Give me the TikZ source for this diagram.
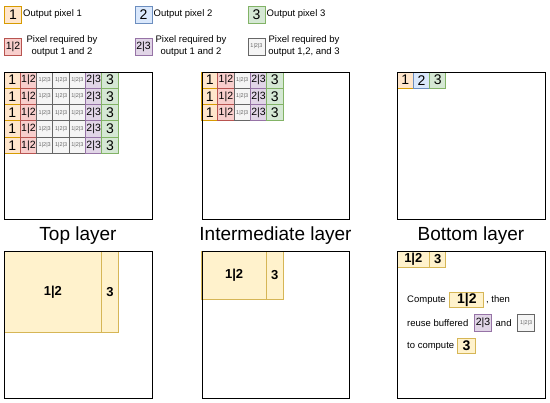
\documentclass[tikz,border=0pt]{standalone}
\usepackage{fontspec}
\setmainfont{Liberation Sans}
\usetikzlibrary{positioning}

\definecolor{orangefill}{HTML}{FFE6CC}
\definecolor{orangeline}{HTML}{D79B00}
\definecolor{bluefill}{HTML}{DAE8FC}
\definecolor{blueline}{HTML}{6C8EBF}
\definecolor{greenfill}{HTML}{D5E8D4}
\definecolor{greenline}{HTML}{82B366}
\definecolor{redfill}{HTML}{F8CECC}
\definecolor{redline}{HTML}{B85450}
\definecolor{purplefill}{HTML}{E1D5E7}
\definecolor{purpleline}{HTML}{9673A6}
\definecolor{greyfill}{HTML}{F5F5F5}
\definecolor{greyline}{HTML}{666666}
\definecolor{yellowfill}{HTML}{FFF2CC}
\definecolor{yellowline}{HTML}{D6B656}

\tikzset{
  cell/.style={draw, line width=0.9pt, anchor=north west, inner sep=0pt, outer sep=0pt,
    minimum width=16.3, minimum height=16.3},
  pone/.style={cell, draw=orangeline, fill=orangefill, font=\fontsize{14}{14}\selectfont},
  ptwo/.style={cell, draw=blueline, fill=bluefill, font=\fontsize{14}{14}\selectfont},
  pthree/.style={cell, draw=greenline, fill=greenfill, font=\fontsize{14}{14}\selectfont},
  ponetwo/.style={cell, draw=redline, fill=redfill, font=\fontsize{10.5}{10.5}\selectfont},
  ptwothree/.style={cell, draw=purpleline, fill=purplefill, font=\fontsize{10.5}{10.5}\selectfont},
  pall/.style={cell, draw=greyline, fill=greyfill, text=greyline, font=\fontsize{5.5}{5.5}\selectfont},
  pbuf/.style={cell, draw=yellowline, fill=yellowfill, font=\bfseries\fontsize{13}{13}\selectfont},
  frame/.style={draw=black, line width=1.3pt, anchor=north west, inner sep=0pt,
    minimum width=147.5, minimum height=147},
  title/.style={font=\fontsize{19}{19}\selectfont},
  txt/.style={anchor=west, inner sep=0pt, font=\fontsize{9.5}{12}\selectfont},
}

\begin{document}
\begin{tikzpicture}[x=1pt, y=-1pt]
  \useasboundingbox (0,0) rectangle (550,403);

  %--------------------------
  % Legend
  %--------------------------
  \node[pone, anchor=center, minimum width=17, minimum height=17] (leg1) at (13,14.5) {1};
  \node[txt, right=1.5pt of leg1] (leg1txt) {Output pixel 1};
  \node[ptwo, anchor=center, minimum width=17, minimum height=17] (leg2) at (143.5,14.5) {2};
  \node[txt, right=1.5pt of leg2] (leg2txt) {Output pixel 2};
  \node[pthree, anchor=center, minimum width=17, minimum height=17] (leg3) at (256.5,14.5) {3};
  \node[txt, right=1.5pt of leg3] (leg3txt) {Output pixel 3};

  \node[ponetwo, anchor=center, minimum width=17, minimum height=17] (leg12) at (13,46.5) {1|2};
  \node[txt, anchor=center, align=center] (leg12txt) at (62,46.5) {Pixel required by\\output 1 and 2};
  \node[ptwothree, anchor=center, minimum width=17, minimum height=17] (leg23) at (143.5,46.5) {2|3};
  \node[txt, anchor=center, align=center] (leg23txt) at (191,46.5) {Pixel required by\\output 1 and 2};
  \node[pall, anchor=center, minimum width=17, minimum height=17] (leg123) at (256.5,46.5) {1|2|3};
  \node[txt, anchor=center, align=center] (leg123txt) at (304,46.5) {Pixel required by\\output 1,2, and 3};

  %--------------------------
  % Required pixels per layer
  %--------------------------
  % Top layer: 7 x 5
  \foreach \lab/\sty [count=\c from 0] in {1/pone, {1|2}/ponetwo, {1|2|3}/pall, {1|2|3}/pall,
      {1|2|3}/pall, {2|3}/ptwothree, 3/pthree}
    \foreach \r in {0,...,4}
      \node[\sty] (top-\r-\c) at ({4+\c*16.3},{72+\r*16.3}) {\lab};
  \node[frame] (topframe) at (4,72) {};

  % Intermediate layer: 5 x 3
  \foreach \lab/\sty [count=\c from 0] in {1/pone, {1|2}/ponetwo, {1|2|3}/pall, {2|3}/ptwothree, 3/pthree}
    \foreach \r in {0,...,2}
      \node[\sty] (mid-\r-\c) at ({201.5+\c*16.3},{72+\r*16.3}) {\lab};
  \node[frame] (midframe) at (201.5,72) {};

  % Bottom layer: 3 x 1
  \foreach \lab/\sty [count=\c from 0] in {1/pone, 2/ptwo, 3/pthree}
    \node[\sty] (bot-\c) at ({397+\c*16.3},72) {\lab};
  \node[frame] (botframe) at (397,72) {};

  % Titles
  \node[title] (toptitle) at (78,236) {Top layer};
  \node[title] (midtitle) at (275.5,236) {Intermediate layer};
  \node[title] (bottitle) at (471,236) {Bottom layer};

  %--------------------------
  % Buffered computation
  %--------------------------
  \node[pbuf, minimum width=97.8, minimum height=81.5] (topbuf12) at (4,251) {1|2};
  \node[pbuf, minimum height=81.5, right=0pt of topbuf12] (topbuf3) {3};
  \node[frame] (topframeb) at (4,251) {};

  \node[pbuf, minimum width=65.2, minimum height=48.9] (midbuf12) at (201.5,251) {1|2};
  \node[pbuf, minimum height=48.9, right=0pt of midbuf12] (midbuf3) {3};
  \node[frame] (midframeb) at (201.5,251) {};

  \node[pbuf, minimum width=32.6] (botbuf12) at (397,251) {1|2};
  \node[pbuf, right=0pt of botbuf12] (botbuf3) {3};
  \node[frame] (botframeb) at (397,251) {};

  \node[txt] (compute) at (407,300) {Compute};
  \node[pbuf, minimum width=34, minimum height=15, font=\bfseries\fontsize{14}{14}\selectfont,
    right=4pt of compute] (cmp12) {1|2};
  \node[txt, right=2pt of cmp12] (then) {, then};

  \node[txt] (reuse) at (407,323) {reuse buffered};
  \node[ptwothree, minimum width=17, minimum height=17, right=6pt of reuse] (buf23) {2|3};
  \node[txt, right=4pt of buf23] (and) {and};
  \node[pall, minimum width=17, minimum height=17, right=6pt of and] (buf123) {1|2|3};

  \node[txt] (tocompute) at (407,346) {to compute};
  \node[pbuf, minimum width=18, minimum height=15, font=\bfseries\fontsize{14}{14}\selectfont,
    right=3pt of tocompute] (cmp3) {3};

\end{tikzpicture}
\end{document}
